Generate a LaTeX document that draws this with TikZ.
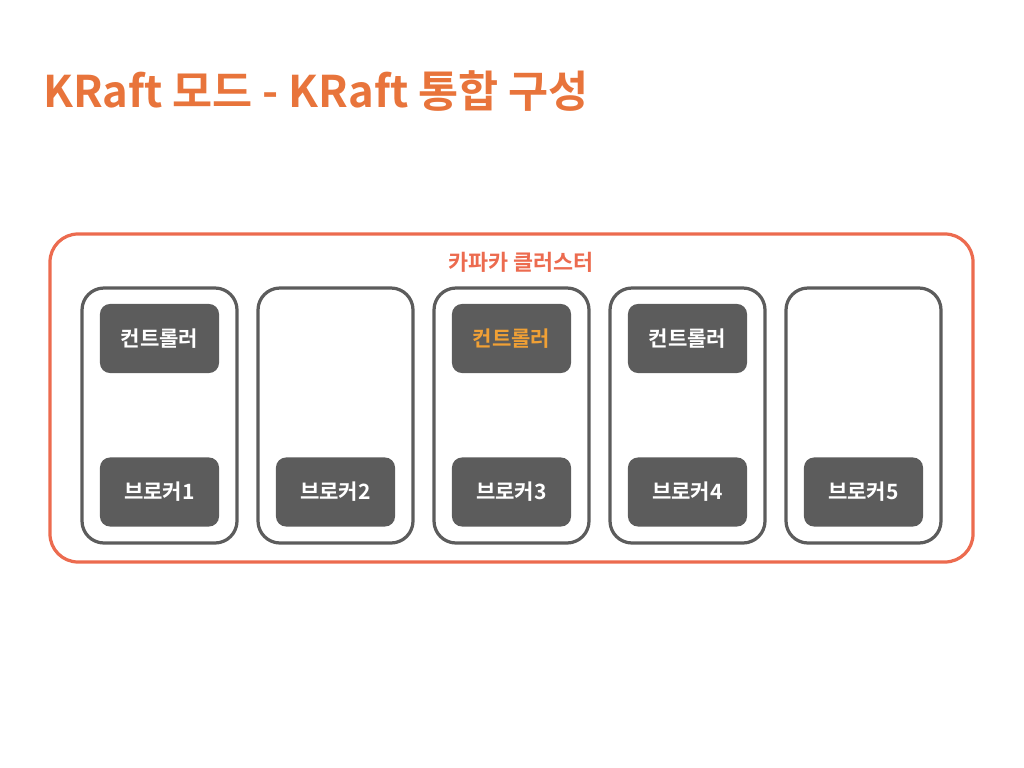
\documentclass[tikz,border=0pt]{standalone}
\usepackage{fontspec}
\setmainfont{Noto Sans CJK KR}
\newfontfamily\krbold{Noto Sans CJK KR Bold}
\definecolor{titleorange}{HTML}{E8743B}
\definecolor{clusterred}{HTML}{EC6B4F}
\definecolor{boxgray}{HTML}{5C5C5C}
\definecolor{leaderorange}{HTML}{F0A035}
\tikzset{
  pencil/.style={line width=2.3pt, rounded corners=0.55cm},
  rolebox/.style={draw=none, fill=boxgray, rounded corners=0.25cm, minimum width=2.975cm, minimum height=1.725cm, text=white, font=\krbold\fontsize{15}{18}\selectfont},
}
\begin{document}
\begin{tikzpicture}[x=0.025cm, y=-0.025cm]
\useasboundingbox (0,0) rectangle (1024,768);
\node[anchor=base west, inner sep=0pt, text=titleorange, font=\krbold\fontsize{31}{36}\selectfont] (title) at (43,108) {KRaft 모드 - KRaft 통합 구성};
\draw[pencil, draw=clusterred, rounded corners=0.7cm] (50,234) rectangle (973,562);
\node[text=clusterred, font=\krbold\fontsize{15.5}{18}\selectfont] (cluster) at (521,262) {카파카 클러스터};
% brokers
\draw[pencil, draw=boxgray] (82,288) rectangle (237,543);
\draw[pencil, draw=boxgray] (258,288) rectangle (413,543);
\draw[pencil, draw=boxgray] (434,288) rectangle (589,543);
\draw[pencil, draw=boxgray] (610,288) rectangle (765,543);
\draw[pencil, draw=boxgray] (786,288) rectangle (941,543);
\node[rolebox] (C1) at (159.5,338.5) {컨트롤러};
\node[rolebox, text=leaderorange] (C3) at (511.5,338.5) {컨트롤러};
\node[rolebox] (C4) at (687.5,338.5) {컨트롤러};
\node[rolebox] (B1) at (159.5,492) {브로커1};
\node[rolebox] (B2) at (335.5,492) {브로커2};
\node[rolebox] (B3) at (511.5,492) {브로커3};
\node[rolebox] (B4) at (687.5,492) {브로커4};
\node[rolebox] (B5) at (863.5,492) {브로커5};
\end{tikzpicture}
\end{document}
